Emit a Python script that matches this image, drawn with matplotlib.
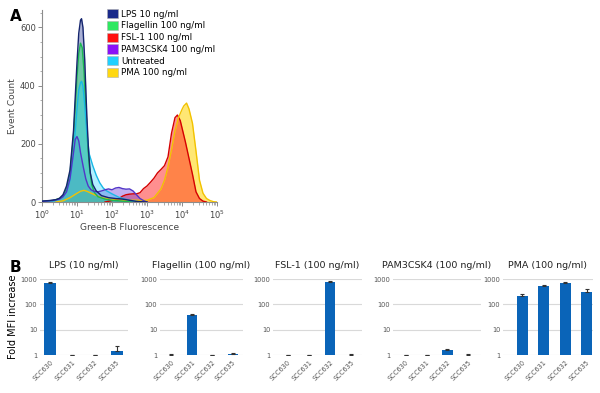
import matplotlib
matplotlib.use("Agg")
import matplotlib.pyplot as plt
import numpy as np
from matplotlib.ticker import FixedLocator, MultipleLocator, LogLocator, NullFormatter
from matplotlib.patches import Patch

# ---------------- Panel A data (log10 fluorescence, event count) ----------------
lps_x = [0.0, 0.2, 0.4, 0.5, 0.6, 0.7, 0.8, 0.9, 1.0, 1.05, 1.1, 1.13, 1.17, 1.22, 1.28, 1.33, 1.38, 1.45, 1.55, 1.7, 1.9, 2.1, 2.3, 2.5, 2.7, 3.0]
lps_y = [3, 5, 8, 13, 25, 55, 110, 245, 480, 580, 625, 630, 600, 490, 300, 175, 100, 60, 38, 22, 15, 12, 10, 6, 2, 0]

flag_x = [0.0, 0.3, 0.5, 0.6, 0.7, 0.8, 0.9, 1.0, 1.05, 1.1, 1.15, 1.2, 1.25, 1.3, 1.35, 1.42, 1.5, 1.6, 1.8, 2.0, 2.3, 2.6]
flag_y = [2, 5, 12, 22, 45, 100, 225, 430, 510, 546, 530, 450, 330, 210, 125, 60, 32, 18, 10, 6, 3, 0]

untr_x = [0.0, 0.3, 0.5, 0.6, 0.7, 0.8, 0.9, 1.0, 1.05, 1.1, 1.13, 1.17, 1.22, 1.28, 1.35, 1.45, 1.55, 1.65, 1.75, 1.85, 2.0, 2.2, 2.5, 2.8]
untr_y = [2, 4, 10, 18, 35, 75, 170, 320, 385, 410, 415, 400, 335, 240, 165, 125, 92, 66, 48, 38, 28, 16, 6, 0]

pam_x = [0.0, 0.3, 0.5, 0.6, 0.7, 0.8, 0.9, 0.95, 1.0, 1.05, 1.1, 1.18, 1.25, 1.32, 1.4, 1.5, 1.6, 1.7, 1.8, 1.9, 2.0, 2.1, 2.2, 2.3, 2.4, 2.5, 2.6, 2.7, 2.8, 2.9, 3.0]
pam_y = [2, 5, 10, 18, 35, 80, 170, 215, 225, 210, 170, 120, 80, 55, 42, 36, 35, 38, 42, 45, 42, 48, 50, 46, 44, 45, 38, 25, 12, 5, 0]

fsl_x = [1.8, 2.0, 2.2, 2.3, 2.4, 2.5, 2.6, 2.7, 2.8, 2.9, 3.0, 3.1, 3.2, 3.3, 3.4, 3.5, 3.6, 3.7, 3.8, 3.87, 3.95, 4.0, 4.1, 4.2, 4.3, 4.4, 4.5, 4.6, 4.7]
fsl_y = [0, 5, 12, 20, 25, 27, 28, 28, 32, 46, 55, 68, 82, 100, 112, 125, 155, 236, 290, 299, 280, 255, 205, 150, 95, 35, 12, 3, 0]

pma_x = [0.4, 0.6, 0.8, 1.0, 1.1, 1.2, 1.3, 1.5, 1.7, 2.0, 2.3, 2.6, 2.8, 3.0, 3.2, 3.4, 3.5, 3.6, 3.7, 3.8, 3.9, 4.0, 4.05, 4.13, 4.2, 4.3, 4.4, 4.5, 4.6, 4.7, 4.8, 4.9, 5.0]
pma_y = [0, 4, 15, 30, 37, 40, 36, 25, 15, 8, 6, 6, 6, 6, 15, 45, 75, 120, 180, 245, 290, 318, 330, 340, 320, 270, 175, 75, 30, 12, 5, 1, 0]

legend_labels = ["LPS 10 ng/ml", "Flagellin 100 ng/ml", "FSL-1 100 ng/ml",
                 "PAM3CSK4 100 ng/ml", "Untreated", "PMA 100 ng/ml"]

# ---------------- Panel B data ----------------
cell_lines = ["SCC630", "SCC631", "SCC632", "SCC635"]
titles_b = ["LPS (10 ng/ml)", "Flagellin (100 ng/ml)", "FSL-1 (100 ng/ml)",
            "PAM3CSK4 (100 ng/ml)", "PMA (100 ng/ml)"]
lps_fold = [720, 1.04, 1.04, 1.45]
lps_err = [40, 0.0, 0.0, 0.85]
flag_fold = [1.04, 38, 1.0, 1.12]
flag_err = [0.02, 3, 0.0, 0.12]
fsl_fold = [1.04, 1.04, 780, 1.04]
fsl_err = [0.0, 0.0, 40, 0.02]
pam_fold = [1.03, 1.03, 1.55, 1.03]
pam_err = [0.0, 0.0, 0.12, 0.02]
pma_fold = [205, 540, 700, 320]
pma_err = [45, 30, 40, 70]
fold_b = [lps_fold, flag_fold, fsl_fold, pam_fold, pma_fold]
err_b = [lps_err, flag_err, fsl_err, pam_err, pma_err]

# ---------------- Figure ----------------
W, H = 600, 393
plt.rcParams['font.family'] = ['DejaVu Sans']
fig = plt.figure(figsize=(6.0, 3.93), dpi=100)

# Panel A
axA = fig.add_axes([42 / W, 1 - 202 / H, 175 / W, 192 / H])
series = [
    (pma_x, pma_y, "#ffd400", "#f2c200", 0.55),
    (fsl_x, fsl_y, "#ff2020", "#d40000", 0.50),
    (lps_x, lps_y, "#2a3a96", "#15256e", 0.40),
    (pam_x, pam_y, "#6a3ad8", "#5236c8", 0.40),
    (flag_x, flag_y, "#2ee86a", "#1cb852", 0.45),
    (untr_x, untr_y, "#22d2ff", "#19b8e6", 0.35),
]
for xs, ys, fc, ec, al in series:
    xv = np.power(10.0, np.array(xs))
    axA.fill_between(xv, 0, ys, color=fc, alpha=al, lw=0, zorder=2)
line_order = [1, 0, 4, 5, 3, 2]
for k in line_order:
    xs, ys, fc, ec, al = series[k]
    xv = np.power(10.0, np.array(xs))
    axA.plot(xv, ys, color=ec, lw=1.0, zorder=3)

axA.set_xscale("log")
axA.set_xlim(1, 1e5)
axA.set_ylim(0, 660)
axA.yaxis.set_major_locator(FixedLocator([0, 200, 400, 600]))
axA.yaxis.set_minor_locator(MultipleLocator(50))
axA.xaxis.set_major_locator(LogLocator(base=10, numticks=10))
axA.xaxis.set_minor_locator(LogLocator(base=10, subs=np.arange(2, 10), numticks=20))
axA.xaxis.set_minor_formatter(NullFormatter())
for s in ["top", "right"]:
    axA.spines[s].set_visible(False)
for s in ["left", "bottom"]:
    axA.spines[s].set_color("#8c8c8c")
    axA.spines[s].set_linewidth(0.8)
axA.tick_params(axis="both", which="major", labelsize=6, colors="#8c8c8c",
                labelcolor="#444444", length=3, width=0.7, pad=1.5)
axA.tick_params(axis="both", which="minor", colors="#8c8c8c", length=1.8, width=0.5)
axA.set_xlabel("Green-B Fluorescence", fontsize=6.5, color="#444444", labelpad=1.5)
axA.set_ylabel("Event Count", fontsize=6.5, color="#444444", labelpad=2)

leg_colors = ["#1a2a8a", "#2ee860", "#ff1010", "#8a10f8", "#20d0ff", "#ffd810"]
handles = [Patch(facecolor=c, edgecolor="#b0b0b0", lw=0.4) for c in leg_colors]
fig.legend(handles, legend_labels, loc="upper left", bbox_to_anchor=(107 / W, 1 - 9 / H),
           frameon=False, fontsize=6.3, handlelength=1.2, handleheight=1.25,
           handletextpad=0.4, labelspacing=0.25, borderaxespad=0, borderpad=0)

fig.text(10 / W, 1 - 21 / H, "A", fontsize=11, fontweight="bold")
fig.text(10 / W, 1 - 272 / H, "B", fontsize=11, fontweight="bold")

# Panel B
lefts = [40, 160, 273, 393, 503]
widths = [88, 83, 89, 88, 90]
xlims = [(-0.45, 3.5), (-0.56, 3.49), (-0.71, 3.52), (-0.6, 3.6), (-0.9, 3.3)]
xpos = np.arange(len(cell_lines))
for i in range(5):
    ax = fig.add_axes([lefts[i] / W, 1 - 355 / H, widths[i] / W, 76 / H])
    ax.set_yscale("log")
    ax.set_ylim(1, 1000)
    ax.set_xlim(*xlims[i])
    for yv in [1, 10, 100, 1000]:
        ax.axhline(yv, color="#d9d9d9", lw=0.8, zorder=0)
    ax.bar(xpos, fold_b[i], width=0.52, bottom=0, color="#0a64b8", zorder=2)
    ax.errorbar(xpos, fold_b[i], yerr=[[0] * 4, err_b[i]], fmt="none",
                ecolor="#333333", elinewidth=0.8, capsize=1.5, capthick=0.8, zorder=3)
    ax.yaxis.set_major_locator(FixedLocator([1, 10, 100, 1000]))
    ax.yaxis.set_minor_locator(FixedLocator([]))
    ax.set_yticklabels(["1", "10", "100", "1000"])
    ax.set_xticks(xpos)
    ax.set_xticklabels(cell_lines, rotation=45, ha="right", rotation_mode="anchor")
    for s in ax.spines.values():
        s.set_visible(False)
    ax.tick_params(axis="both", length=0, labelsize=4.8, labelcolor="#555555", pad=2)
    ax.tick_params(axis="x", pad=3)
    ax.set_title(titles_b[i], fontsize=6.8, pad=8, color="#222222")
    if i == 0:
        ax.set_ylabel("Fold MFI increase", fontsize=7, labelpad=2)

fig.savefig("out.png", dpi=100)
